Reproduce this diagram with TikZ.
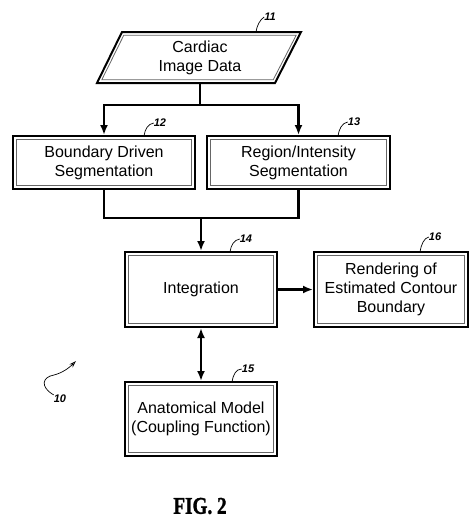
\documentclass[tikz,border=0pt]{standalone}
\usepackage{graphicx}
\usepackage{fontspec}
\setmainfont{Liberation Sans}
\newfontfamily\figfont[FakeBold=1.5]{Liberation Serif Bold}
\usetikzlibrary{arrows.meta}
\begin{document}
\begin{tikzpicture}[x=1pt,y=-1pt,
  box/.style={draw, line width=2pt, align=center, inner sep=0pt,
    font=\fontsize{16}{19}\selectfont,
    path picture={\draw[black!60, line width=0.8pt]
      ([shift={(3.2pt,3.2pt)}]path picture bounding box.south west) rectangle
      ([shift={(-3.2pt,-3.2pt)}]path picture bounding box.north east);}},
  conn/.style={line width=2.2pt},
  arr/.style={conn, -{Latex[length=10pt,width=8pt]}},
  darr/.style={conn, {Latex[length=10pt,width=8pt]}-{Latex[length=10pt,width=8pt]}},
  num/.style={font=\fontsize{11}{11}\selectfont\bfseries\itshape, inner sep=0pt},
  lead/.style={line width=0.7pt}
]
\useasboundingbox (0,0) rectangle (474,528);

% parallelogram 11
\draw[line width=2pt] (122,32) -- (301,32) -- (275,83) -- (97,83) -- cycle;
\draw[black!60, line width=0.8pt] (123.8,35.2) -- (296.2,35.2) -- (273.2,79.8) -- (101.8,79.8) -- cycle;
\node[inner sep=0pt, minimum width=150pt, minimum height=51pt, align=center,
  font=\fontsize{16}{19}\selectfont] (data) at (200,57.5) {Cardiac\\Image Data};

\node[box, minimum width=182pt, minimum height=53pt] (b12) at (104,162.5) {Boundary Driven\\Segmentation};
\node[box, minimum width=183pt, minimum height=53pt] (b13) at (298.5,162.5) {Region/Intensity\\Segmentation};
\node[box, minimum width=152pt, minimum height=75pt] (b14) at (201,289.5) {Integration};
\node[box, minimum width=154pt, minimum height=75pt] (b16) at (391,289.5) {Rendering of\\Estimated Contour\\Boundary};
\node[box, minimum width=152pt, minimum height=74pt] (b15) at (201,419) {Anatomical Model\\(Coupling Function)};

% connectors
\coordinate (split) at (200,105);
\coordinate (merge) at (201,218);
\draw[conn] (data.south) -- (split);
\draw[arr] (split) -| (b12.north);
\draw[arr] (split) -| (b13.north);
\draw[conn] (b12.south) |- (merge) -| (b13.south);
\draw[arr] (merge) -- (b14.north);
\draw[arr] (b14.east) -- (b16.west);
\draw[darr] (b14.south) -- (b15.north);

% reference numerals
\node[num] (n11) at (270,17) {11};
\coordinate (l11) at (256,32);
\draw[lead] (l11) .. controls (257,25) and (260,20) .. (n11.west);
\node[num] (n12) at (160,123) {12};
\coordinate (l12) at (144,136);
\draw[lead] (l12) .. controls (145,129) and (148,124) .. (n12.west);
\node[num] (n13) at (354,122) {13};
\coordinate (l13) at (338,136);
\draw[lead] (l13) .. controls (339,129) and (342,123) .. (n13.west);
\node[num] (n14) at (246,239) {14};
\coordinate (l14) at (230,252);
\draw[lead] (l14) .. controls (231,245) and (234,240) .. (n14.west);
\node[num] (n16) at (435,237) {16};
\coordinate (l16) at (420,252);
\draw[lead] (l16) .. controls (421,245) and (424,238) .. (n16.west);
\node[num] (n15) at (248,369) {15};
\coordinate (l15) at (232,382);
\draw[lead] (l15) .. controls (233,375) and (236,369) .. (n15.west);

\node[num] (n10) at (60,399) {10};
\coordinate (t10) at (76,361);
\draw[lead, -{Stealth[open,length=7pt,width=4.5pt]}] (n10.north west) .. controls (40,387) and (42,377) .. (54,375) .. controls (62,373) and (69,368) .. (t10);

\node[inner sep=0pt] (fig) at (200,506) {\scalebox{0.8}[1]{\figfont\fontsize{24}{24}\selectfont FIG. 2}};
\end{tikzpicture}
\end{document}
